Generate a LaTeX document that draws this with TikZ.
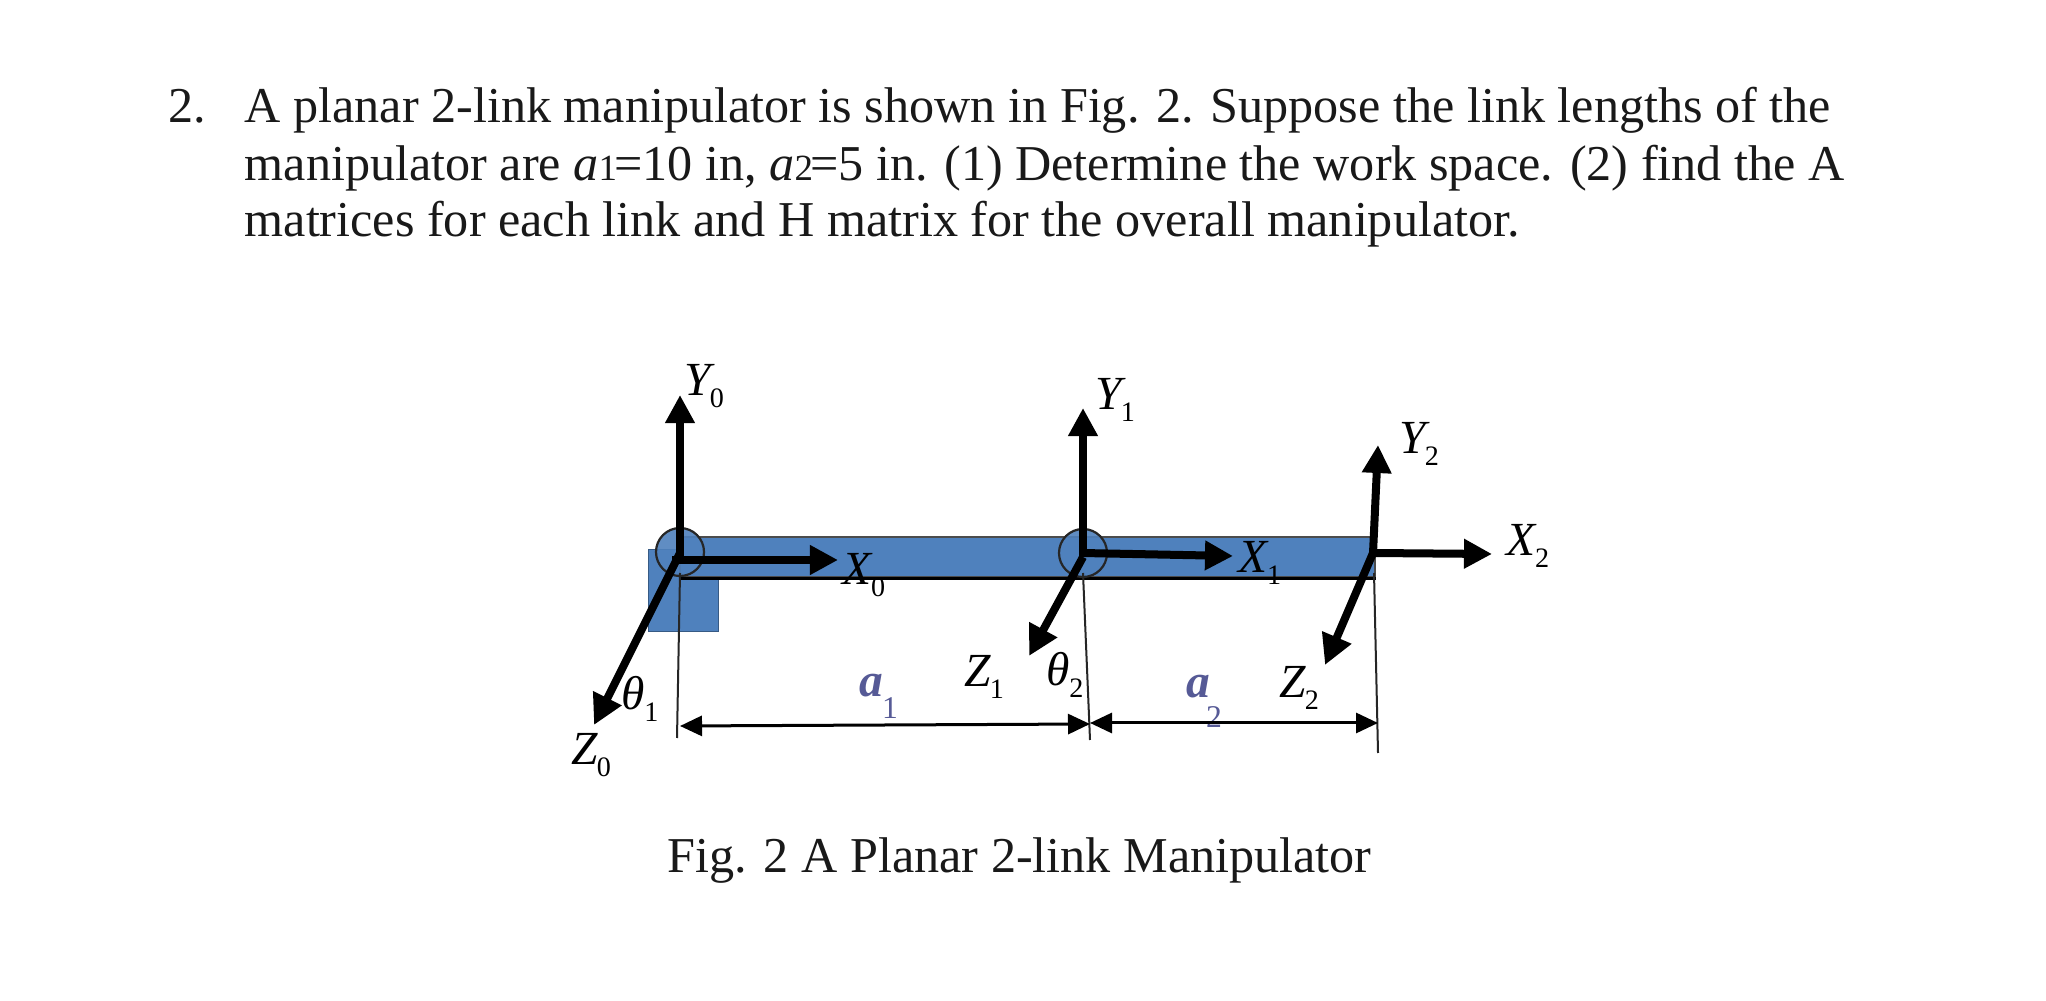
\documentclass[tikz,border=0pt]{standalone}
\usepackage{fontspec}
\usetikzlibrary{arrows.meta}
\setmainfont{Liberation Serif}
\definecolor{linkblue}{HTML}{4F81BD}
\definecolor{dimviolet}{HTML}{565A96}
\newcommand{\axlbl}[2]{{\fontsize{13.5}{14}\selectfont\itshape #1}\kern-0.2pt\raisebox{-3.6pt}{\fontsize{8}{9}\selectfont #2}}
\newcommand{\inlinesub}[1]{{\fontsize{10.5}{11}\selectfont #1}\kern-0.8pt}
\tikzset{
  bodytext/.style={anchor=base west,inner sep=0pt,font=\fontsize{14.27}{16}\selectfont,text=black!90},
  axislabel/.style={inner sep=0pt},
  axisarrow/.style={line width=0.08cm,-{Triangle[length=0.28cm,width=0.28cm]}},
  zarrow/.style={line width=0.08cm,-{Triangle[length=0.3cm,width=0.3cm]}},
  extline/.style={line width=0.02cm,black!85},
  dimline/.style={line width=0.03cm,{Triangle[length=0.22cm,width=0.2cm]}-{Triangle[length=0.22cm,width=0.2cm]}},
  linkbody/.style={fill=linkblue,draw=black!70,line width=0.025cm},
  joint/.style={circle,minimum size=0.48cm,inner sep=0pt,draw=black!85,line width=0.022cm,fill=linkblue},
  dimletter/.style={inner sep=0pt,text=dimviolet,font=\fontsize{13.5}{15}\selectfont\bfseries\itshape},
  dimsub/.style={inner sep=0pt,text=dimviolet,font=\fontsize{9}{11}\selectfont},
}
\begin{document}
\begin{tikzpicture}[x=0.01cm,y=-0.01cm]
\useasboundingbox[fill=white] (0,0) rectangle (2046,1001);
% text
\node[bodytext] (num) at (168,123) {2.};
\node[bodytext] (l1) at (244,123) {A planar 2-link manipulator is shown in Fig. 2. Suppose the link lengths of the};
\node[bodytext] (l2) at (244,181) {manipulator are \textit{a}\inlinesub{1}=10 in, \textit{a}\inlinesub{2}=5 in. (1) Determine the work space. (2) find the A};
\node[bodytext] (l3) at (244,237) {matrices for each link and H matrix for the overall manipulator.};
\node[bodytext] (cap) at (667,873) {Fig. 2 A Planar 2-link Manipulator};
% link body
\node[linkbody,minimum width=0.69cm,minimum height=0.81cm,inner sep=0pt,line width=0.01cm,draw=linkblue!70!black] (base) at (683.5,590.5) {};
\node[linkbody,minimum width=6.95cm,minimum height=0.40cm,inner sep=0pt] (bar) at (1027.5,557) {};
\draw[line width=0.03cm] (bar.south west) -- (bar.south east);
\node[joint,fill opacity=0.9] (j0) at (680,552) {};
\node[joint,fill opacity=0.9] (j1) at (1083,553) {};
% coordinates
\coordinate (o0) at (680,560);
\coordinate (y0) at (680,395);
\coordinate (x0s) at (672,560);
\coordinate (x0) at (838,560);
\coordinate (z0s) at (680,553);
\coordinate (z0) at (594,725);
\coordinate (o1) at (1083,557);
\coordinate (y1) at (1083,408);
\coordinate (x1s) at (1082,553);
\coordinate (x1) at (1233,556);
\coordinate (z1) at (1029,656);
\coordinate (o2) at (1373,553);
\coordinate (y2) at (1378,445);
\coordinate (x2) at (1492,554);
\coordinate (z2) at (1325,665);
\coordinate (e0a) at (680,573);
\coordinate (e0b) at (677,738);
\coordinate (e1a) at (1083,573);
\coordinate (e1b) at (1090,740);
\coordinate (e2a) at (1374,573);
\coordinate (e2b) at (1378,753);
\coordinate (d0) at (680,726);
\coordinate (d1) at (1090,724);
\coordinate (d1r) at (1090,723);
\coordinate (d2) at (1378,723);
% extension lines
\draw[extline] (e0a) -- (e0b);
\draw[extline] (e1a) -- (e1b);
\draw[extline] (e2a) -- (e2b);
% labels placed under the axes
\node[axislabel] (lx0) at (864,575) {\axlbl{X}{0}};
\node[axislabel] (lx1) at (1260,563) {\axlbl{X}{1}};
\node[axislabel] (lx2) at (1528,546) {\axlbl{X}{2}};
\node[axislabel] (ly0) at (704,386) {\axlbl{Y}{0}};
\node[axislabel] (ly1) at (1115,400) {\axlbl{Y}{1}};
\node[axislabel] (ly2) at (1419,444) {\axlbl{Y}{2}};
\node[axislabel] (lz0) at (591,755) {\axlbl{Z}{0}};
\node[axislabel] (lz1) at (984,677) {\axlbl{Z}{1}};
\node[axislabel] (lz2) at (1299,688) {\axlbl{Z}{2}};
\node[axislabel] (lt1) at (640,699) {\axlbl{θ}{1}};
\node[axislabel] (lt2) at (1065,675) {\axlbl{θ}{2}};
\node[dimletter] (a1) at (871,686) {a};
\node[dimsub] (a1s) at (890,708) {1};
\node[dimletter] (a2) at (1198,687) {a};
\node[dimsub] (a2s) at (1214,717) {2};
% axes
\draw[axisarrow] (o0) -- (y0);
\draw[axisarrow] (x0s) -- (x0);
\draw[zarrow] (z0s) -- (z0);
\draw[axisarrow] (o1) -- (y1);
\draw[axisarrow] (x1s) -- (x1);
\draw[zarrow] (o1) -- (z1);
\draw[axisarrow] (o2) -- (y2);
\draw[axisarrow] (o2) -- (x2);
\draw[zarrow] (o2) -- (z2);
% dimensions
\draw[dimline] (d0) -- (d1);
\draw[dimline] (d1r) -- (d2);
\end{tikzpicture}
\end{document}
